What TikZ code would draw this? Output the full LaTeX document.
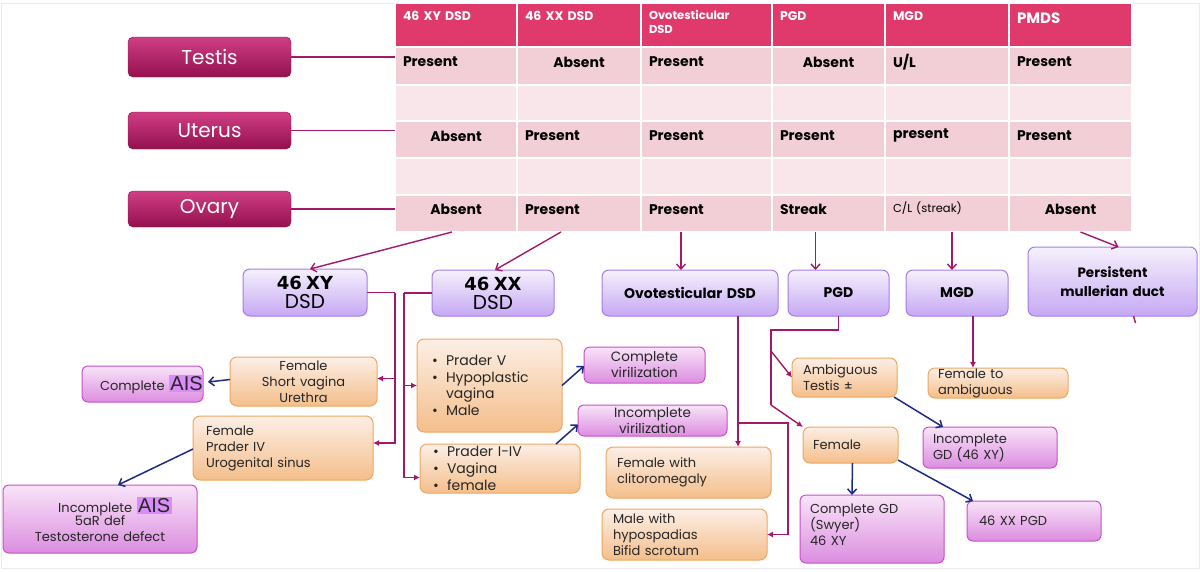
\documentclass[tikz,border=0pt]{standalone}
\usepackage{fontspec}
\setmainfont{Poppins}
\newfontfamily\arialf{Liberation Sans}
\newfontfamily\verdf{DejaVu Sans}
\usetikzlibrary{arrows.meta}
\definecolor{hdr}{HTML}{E03A6C}
\definecolor{rowd}{HTML}{F2CED6}
\definecolor{rowl}{HTML}{F9E6EA}
\definecolor{lblt}{HTML}{D03E84}
\definecolor{lblbot}{HTML}{94104F}
\definecolor{lblb}{HTML}{8A0E4A}
\definecolor{lavt}{HTML}{F5F1FC}
\definecolor{lavbot}{HTML}{C6A8F4}
\definecolor{lavb}{HTML}{A47DEA}
\definecolor{orgt}{HTML}{FCEFE6}
\definecolor{orgbot}{HTML}{F4BE8A}
\definecolor{orgb}{HTML}{EFA762}
\definecolor{pnkt}{HTML}{F8E4F8}
\definecolor{pnkbot}{HTML}{DC8DE0}
\definecolor{pnkb}{HTML}{C851CA}
\definecolor{aishl}{HTML}{D98CF7}
\definecolor{cmag}{HTML}{A3186A}
\definecolor{navyc}{HTML}{1C2B85}
\definecolor{txt}{HTML}{262626}
\newcommand\fs[2]{\fontsize{#1}{#2}\selectfont}
\newcommand\up[1]{#1\par\vspace*{7pt}}
\def\mypad{7}
\newcommand\bx[7][]{%
  \pgfmathsetmacro\myBW{#5-#3}\pgfmathsetmacro\myBH{#6-#4}%
  \pgfmathsetmacro\myTW{#5-#3-2*\mypad}%
  \pgfmathsetmacro\myCX{(#3+#5)/2}\pgfmathsetmacro\myCY{(#4+#6)/2}%
  \node[base,#1,minimum width=\myBW pt,minimum height=\myBH pt,text width=\myTW pt] (#2) at (\myCX,\myCY) {#7};}
\tikzset{
  base/.style={inner sep=0pt,outer sep=0pt,align=center,text=txt,font=\fs{13}{16}},
  lft/.style={align=left},
  labelbox/.style={rounded corners=5pt,draw=lblb,top color=lblt,bottom color=lblbot,text=white,font=\fs{20}{24}},
  lavbox/.style={rounded corners=7pt,draw=lavb,line width=1pt,top color=lavt,bottom color=lavbot,text=black},
  orgbox/.style={rounded corners=7pt,draw=orgb,line width=1pt,top color=orgt,bottom color=orgbot},
  pnkbox/.style={rounded corners=6pt,draw=pnkb,line width=1pt,top color=pnkt,bottom color=pnkbot},
  hcell/.style={fill=hdr,draw=white,line width=2pt,text=white,align=left,font=\bfseries\fs{12.5}{15}},
  dcell/.style={fill=rowd,draw=white,line width=2pt,text=black,font=\bfseries\fs{14}{17}},
  lcell/.style={fill=rowl,draw=white,line width=2pt},
  conn/.style={draw=cmag,line width=1.4pt},
  tarr/.style={conn,-{Straight Barb[length=5pt,width=9pt]}},
  barr/.style={conn,-{Latex[length=6pt,width=6pt]}},
  narr/.style={draw=navyc,line width=1.5pt,-{Straight Barb[length=5pt,width=9pt]}},
}
\begin{document}
\begin{tikzpicture}[x=1pt,y=-1pt]
\useasboundingbox (0,0) rectangle (1200,571);
\fill[white] (0,0) rectangle (1200,571);
\draw[black!8,line width=0.8pt] (1,3) rectangle (1199,568);
% ---------- table ----------
\def\mypad{8}
\bx[hcell]{h1}{395}{3}{517}{46.5}{46 XY DSD\par\vspace*{17pt}}
\bx[hcell]{h2}{517}{3}{641}{46.5}{46 XX DSD\par\vspace*{17pt}}
\bx[hcell,font=\bfseries\fs{11.5}{14}]{h3}{641}{3}{772}{46.5}{Ovotesticular\\DSD\par\vspace*{5pt}}
\bx[hcell]{h4}{772}{3}{885}{46.5}{PGD\par\vspace*{17pt}}
\bx[hcell]{h5}{885}{3}{1009}{46.5}{MGD\par\vspace*{17pt}}
\bx[hcell,font=\bfseries\fs{15}{17}]{h6}{1009}{3}{1132}{46.5}{PMDS\par\vspace*{13pt}}
% row testis
\bx[dcell,lft]{t1}{395}{46.5}{517}{84.5}{\up{Present}}
\bx[dcell]{t2}{517}{46.5}{641}{84.5}{\up{Absent}}
\bx[dcell,lft]{t3}{641}{46.5}{772}{84.5}{\up{Present}}
\bx[dcell]{t4}{772}{46.5}{885}{84.5}{\up{Absent}}
\bx[dcell,lft]{t5}{885}{46.5}{1009}{84.5}{\up{U/L}}
\bx[dcell,lft]{t6}{1009}{46.5}{1132}{84.5}{\up{Present}}
% empty row
\bx[lcell]{e11}{395}{84.5}{517}{121}{}
\bx[lcell]{e12}{517}{84.5}{641}{121}{}
\bx[lcell]{e13}{641}{84.5}{772}{121}{}
\bx[lcell]{e14}{772}{84.5}{885}{121}{}
\bx[lcell]{e15}{885}{84.5}{1009}{121}{}
\bx[lcell]{e16}{1009}{84.5}{1132}{121}{}
% row uterus
\bx[dcell]{u1}{395}{121}{517}{158}{\up{Absent}}
\bx[dcell,lft]{u2}{517}{121}{641}{158}{\up{Present}}
\bx[dcell,lft]{u3}{641}{121}{772}{158}{\up{Present}}
\bx[dcell,lft]{u4}{772}{121}{885}{158}{\up{Present}}
\bx[dcell,lft]{u5}{885}{121}{1009}{158}{\up{present}}
\bx[dcell,lft]{u6}{1009}{121}{1132}{158}{\up{Present}}
% empty row
\bx[lcell]{e21}{395}{158}{517}{194.5}{}
\bx[lcell]{e22}{517}{158}{641}{194.5}{}
\bx[lcell]{e23}{641}{158}{772}{194.5}{}
\bx[lcell]{e24}{772}{158}{885}{194.5}{}
\bx[lcell]{e25}{885}{158}{1009}{194.5}{}
\bx[lcell]{e26}{1009}{158}{1132}{194.5}{}
% row ovary
\bx[dcell]{o1}{395}{194.5}{517}{232}{\up{Absent}}
\bx[dcell,lft]{o2}{517}{194.5}{641}{232}{\up{Present}}
\bx[dcell,lft]{o3}{641}{194.5}{772}{232}{\up{Present}}
\bx[dcell,lft]{o4}{772}{194.5}{885}{232}{\up{Streak}}
\bx[dcell,lft,font=\fs{11.5}{13}]{o5}{885}{194.5}{1009}{232}{C/L (streak)\par\vspace*{11pt}}
\bx[dcell]{o6}{1009}{194.5}{1132}{232}{\up{Absent}}
% ---------- row labels ----------
\def\mypad{7}
\bx[labelbox]{testis}{128}{37}{291}{77}{Testis}
\bx[labelbox]{uterus}{128}{112}{291}{149}{Uterus}
\bx[labelbox]{ovary}{128}{191}{291}{227}{Ovary}
\draw[conn] (testis.east) -- (testis.east -| t1.west);
\draw[conn] (uterus.east) -- (uterus.east -| u1.west);
\draw[conn] (ovary.east) -- (ovary.east -| o1.west);
% ---------- second level ----------
\bx[lavbox]{xy}{243}{269}{367}{316}{{\verdf\bfseries\fs{18}{20}46 XY}\\[3pt]{\fs{20}{20}DSD}}
\bx[lavbox]{xx}{432}{270}{554}{316}{{\verdf\bfseries\fs{18}{20}46 XX}\\[3pt]{\fs{20}{20}DSD}}
\bx[lavbox,font=\bfseries\fs{14}{17}]{ovo}{602}{270}{778}{316}{Ovotesticular DSD}
\bx[lavbox,font=\bfseries\fs{14}{17}]{pgd}{788}{270}{889}{316}{PGD}
\bx[lavbox,font=\bfseries\fs{14}{17}]{mgd}{906}{270}{1008}{316}{MGD}
\bx[lavbox,font=\bfseries\fs{13.5}{19}]{pmd}{1028}{247}{1197}{316}{Persistent\\mullerian duct}
% table -> second level
\coordinate (ovoin) at ([xshift=-9pt]ovo.north);
\coordinate (pgdin) at ([xshift=-23pt]pgd.north);
\coordinate (mgdin) at ([xshift=-5pt]mgd.north);
\draw[tarr] ([xshift=-4pt]o1.south) -- ([xshift=5pt]xy.north);
\draw[tarr] ([xshift=-18pt]o2.south) -- ([xshift=2pt]xx.north);
\draw[tarr] (ovoin |- o3.south) -- (ovoin);
\draw[tarr] (pgdin |- o4.south) -- (pgdin);
\draw[tarr] (mgdin |- o5.south) -- (mgdin);
\draw[tarr] ([xshift=10pt]o6.south) -- ([xshift=6pt]pmd.north);
\coordinate (pmdstub) at ([xshift=23pt,yshift=-7pt]pmd.south);
\draw[conn] ([xshift=21pt]pmd.south) -- (pmdstub);
% ---------- 46 XY branch ----------
\bx[orgbox]{fem1}{230}{357}{377}{406}{Female\\Short vagina\\Urethra}
\def\mypad{13}
\bx[orgbox,lft]{fem2}{193}{416}{373}{480}{Female\\Prader IV\\Urogenital sinus}
\def\mypad{7}
\bx[pnkbox,lft]{cais}{82}{366}{203}{402}{\hspace*{11pt}\mbox{Complete {\fboxsep=1.5pt\colorbox{aishl}{\arialf\fs{20}{22}AIS}}}}
\bx[pnkbox]{iais}{3}{485}{197}{553}{\hspace*{30pt}\mbox{Incomplete {\fboxsep=1.5pt\colorbox{aishl}{\arialf\fs{20}{22}AIS}}}\\[-3pt]5aR def\\Testosterone defect}
\coordinate (xyk) at ([xshift=28pt]xy.east);
\draw[conn] (xy.east) -- (xyk);
\draw[barr] (xyk) |- ([yshift=3pt]fem1.east);
\draw[barr] (xyk) |- ([yshift=5pt]fem2.east);
\draw[narr] ([yshift=2pt]fem1.west) -- ([xshift=5pt,yshift=2pt]cais.east);
\draw[narr] ([yshift=-1pt]fem2.west) -- ([xshift=18pt]iais.north);
% ---------- 46 XX branch ----------
\def\mypad{15}
\bx[orgbox,lft,font=\fs{14}{16.7}]{pv}{417}{339}{562}{432}{\makebox[14pt][l]{•}Prader V\\\makebox[14pt][l]{•}Hypoplastic\\\makebox[14pt][l]{}vagina\\\makebox[14pt][l]{•}Male}
\def\mypad{13}
\bx[orgbox,lft,font=\fs{14}{16.7}]{p14}{420}{444}{580}{493}{\makebox[14pt][l]{•}Prader I-IV\\\makebox[14pt][l]{•}Vagina\\\makebox[14pt][l]{•}female}
\def\mypad{5}
\bx[pnkbox,font=\fs{13.5}{16}]{cvir}{584}{347}{705}{383}{Complete\\virilization}
\bx[pnkbox,font=\fs{13.5}{16}]{ivir}{578}{405}{727}{436}{Incomplete\\virilization}
\coordinate (xxk) at ([xshift=-28pt]xx.west);
\draw[conn] (xx.west) -- (xxk);
\draw[barr] (xxk) |- (pv.west);
\draw[barr] (xxk) |- ([yshift=-9pt]p14.west);
\draw[narr] (pv.east) -- ([yshift=-1pt]cvir.west);
\draw[narr] ([xshift=56pt]p14.north) -- ([yshift=-4pt]ivir.west);
% ---------- ovotesticular branch ----------
\def\mypad{11}
\bx[orgbox,lft]{fcl}{606}{447}{771}{498}{Female with\\clitoromegaly}
\bx[orgbox,lft]{mhy}{602}{509}{767}{560}{Male with\\hypospadias\\Bifid scrotum}
\coordinate (ovok) at ([xshift=48pt]ovo.south);
\coordinate (ovoj) at (ovok |- 0,423);
\coordinate (ovor) at (788,423);
\draw[barr] (ovok) -- (ovok |- fcl.north);
\draw[barr] (ovoj) -- (ovor) |- (mhy.east);
% ---------- PGD branch ----------
\bx[orgbox,lft]{amb}{792}{358}{897}{397}{Ambiguous\\Testis ±}
\def\mypad{10}
\bx[orgbox,lft]{pf}{803}{427}{898}{463}{Female}
\bx[pnkbox,lft]{igd}{923}{427}{1057}{468}{Incomplete\\GD (46 XY)}
\bx[pnkbox,lft]{cgd}{800}{495}{944}{563}{Complete GD\\(Swyer)\\46 XY\par\vspace*{8pt}}
\def\mypad{12}
\bx[pnkbox,lft]{x46}{967}{501}{1101}{541}{46 XX PGD}
\coordinate (pgdk) at (771,330);
\coordinate (pgda) at (771,351);
\coordinate (pgdb) at (771,405);
\draw[conn] (pgd.south) |- (pgdk) -- (pgdb);
\draw[barr] (pgda) -- (amb.west);
\draw[barr] (pgdb) -- (pf.north west);
\draw[narr] ([xshift=-3pt]amb.south east) -- ([xshift=-47pt]igd.north);
\draw[narr] ([xshift=2pt]pf.south) -- ([xshift=-20pt]cgd.north);
\draw[narr] ([yshift=3pt]pf.south east) -- ([xshift=-61pt]x46.north);
% ---------- MGD branch ----------
\def\mypad{10}
\bx[orgbox,lft]{fam}{928}{368}{1068}{398}{Female to\\ambiguous}
\coordinate (mgdk) at ([xshift=16pt]mgd.south);
\draw[barr] (mgdk) -- (mgdk |- fam.north);
\end{tikzpicture}
\end{document}
